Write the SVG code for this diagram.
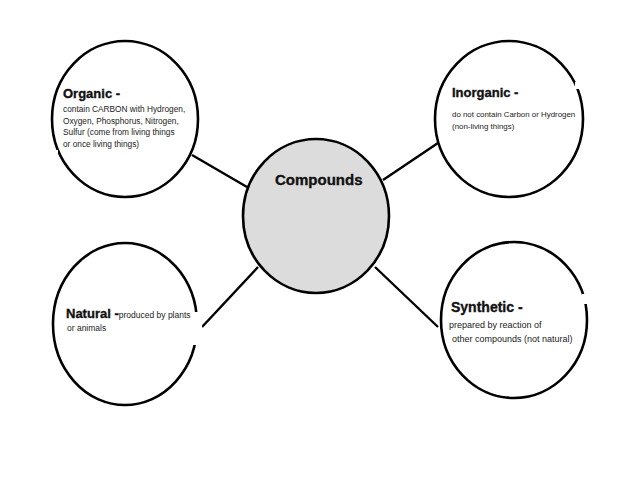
<svg xmlns="http://www.w3.org/2000/svg" width="638" height="478" viewBox="0 0 638 478">
<style>
.c{fill:#fff;stroke:#000;stroke-width:2.6}
.hub{fill:#dcdcdc;stroke:#000;stroke-width:2.6}
.ln{stroke:#000;stroke-width:2.4;fill:none}
.h{font-family:"Liberation Sans",Arial,sans-serif;font-weight:bold;fill:#111;stroke:#111;stroke-width:0.35}
.t{font-family:"Liberation Sans",Arial,sans-serif;fill:#222;stroke:none}
.gap{fill:#fff}
</style>
<rect width="638" height="478" fill="#fff"/>
<g id="connectors">
<line class="ln" x1="192" y1="155" x2="247" y2="187"/>
<line class="ln" x1="383" y1="180" x2="438" y2="143"/>
<line class="ln" x1="202" y1="327" x2="258" y2="267"/>
<line class="ln" x1="375" y1="267" x2="438" y2="327"/>
</g>
<g id="compounds">
<ellipse class="hub" cx="316" cy="216" rx="73" ry="77"/>
<text class="h" x="275" y="185" font-size="15">Compounds</text>
</g>
<g id="organic">
<ellipse class="c" cx="125" cy="119" rx="73" ry="78"/>
<rect class="gap" x="50" y="150" width="8" height="9"/>
<text class="h" x="63" y="98" font-size="13">Organic -</text>
<text class="t" font-size="8.3"><tspan x="63" y="112">contain CARBON with Hydrogen,</tspan><tspan x="63" y="123.5">Oxygen, Phosphorus, Nitrogen,</tspan><tspan x="63" y="135">Sulfur (come from living things</tspan><tspan x="63" y="146.5">or once living things)</tspan></text>
</g>
<g id="inorganic">
<ellipse class="c" cx="509" cy="119" rx="74" ry="78"/>
<rect class="gap" x="575" y="82" width="10" height="7"/>
<text class="h" x="452" y="97" font-size="13">Inorganic -</text>
<text class="t" font-size="7.9"><tspan x="452" y="117">do not contain Carbon or Hydrogen</tspan><tspan x="452" y="129">(non-living things)</tspan></text>
</g>
<g id="natural">
<ellipse class="c" cx="125" cy="324" rx="72" ry="81"/>
<rect class="gap" x="192" y="312" width="10" height="33"/>
<text class="h" x="66" y="318" font-size="13">Natural -<tspan class="t" font-weight="normal" font-size="8.5">produced by plants</tspan></text>
<text class="t" x="67" y="331" font-size="8.5">or animals</text>
</g>
<g id="synthetic">
<ellipse class="c" cx="514" cy="320" rx="73" ry="78"/>
<rect class="gap" x="582" y="294" width="8" height="10"/>
<text class="h" x="451" y="312" font-size="14">Synthetic -</text>
<text class="t" font-size="9"><tspan x="449" y="328">prepared by reaction of</tspan><tspan x="452" y="342">other compounds (not natural)</tspan></text>
</g>
</svg>
